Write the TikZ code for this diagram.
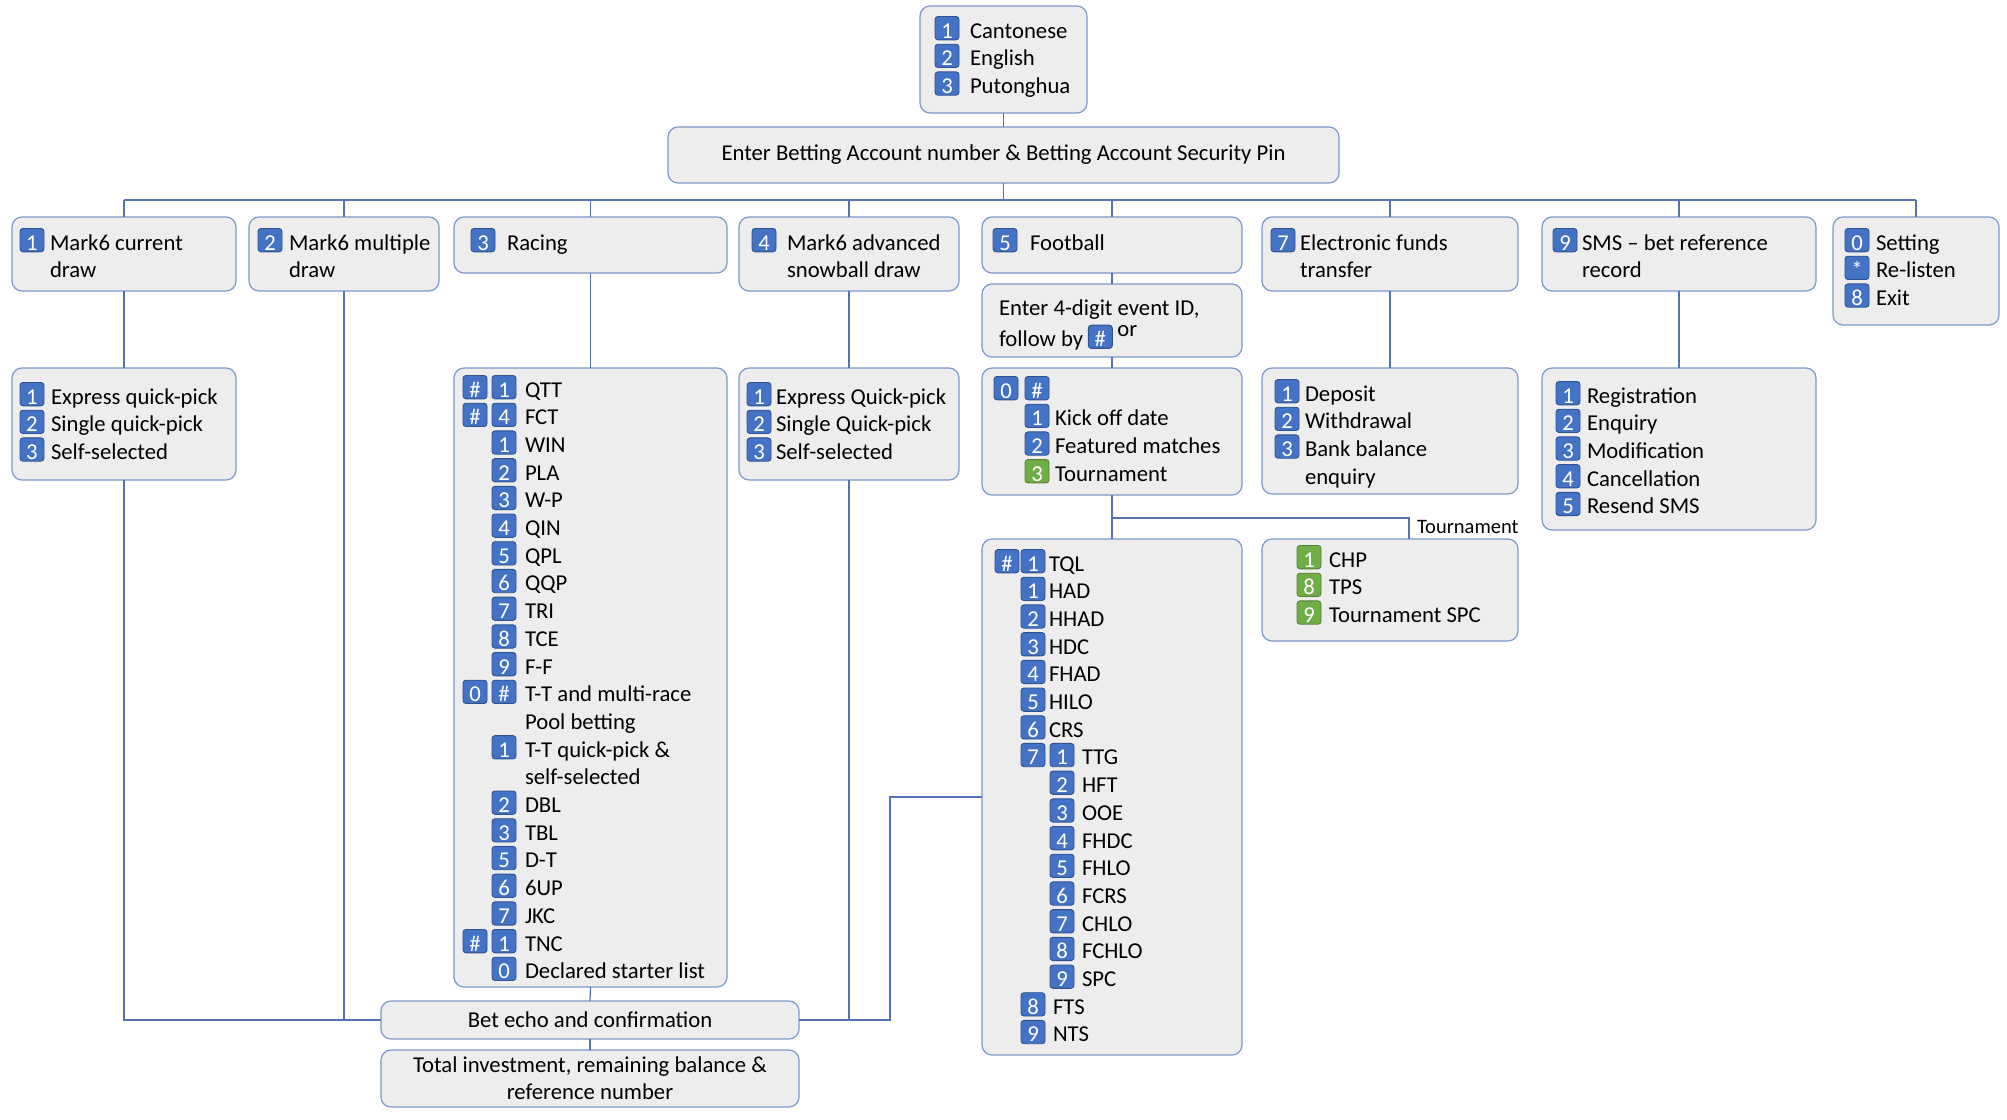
\documentclass[tikz,border=0pt]{standalone}
\usepackage{fontspec}
\setmainfont{Carlito}
\definecolor{boxfill}{RGB}{237,237,237}
\definecolor{boxline}{RGB}{124,152,204}
\definecolor{connline}{RGB}{84,114,182}
\definecolor{bdgfill}{RGB}{68,114,196}
\definecolor{bdgline}{RGB}{47,82,143}
\definecolor{grnfill}{RGB}{112,173,71}
\definecolor{grnline}{RGB}{84,130,53}
\newcommand\fs{\fontsize{22.7}{27.7}\selectfont}
\newcommand\bdgdraw[3]{\tikz[baseline=0pt]{\useasboundingbox (-12pt,-2pt) rectangle (12pt,18pt);
  \draw[line width=0.9pt,draw=#2,fill=#3,rounded corners=3pt] (-12pt,-1.8pt) rectangle (12pt,21.5pt);
  \node[anchor=base,inner sep=0pt,outer sep=0pt,text=white] (bdgnode) at (0pt,0pt) {#1};}}
\newcommand\B[1]{\bdgdraw{#1}{bdgline}{bdgfill}}
\newcommand\G[1]{\bdgdraw{#1}{grnline}{grnfill}}
\tikzset{
  box/.style={draw=boxline,fill=boxfill,rounded corners=10pt,line width=1.2pt,inner sep=0pt,outer sep=0pt,font=\fs,align=center},
  txt/.style={inner sep=0pt,outer sep=0pt,anchor=base west,font=\fs,text=black},
  conn/.style={draw=connline,line width=1.2pt}
}
\newcommand\bx[6]{\node[box,anchor=north west,minimum width={#4-#2},minimum height={#5-#3}] (#1) at (#2,#3) {#6};}
\newcommand\lstnode[5]{\node[txt] (#1) at (#2,#3) {\begin{tabular}[t]{@{}l@{\hspace{#4pt}}l@{}}#5\end{tabular}};}
\begin{document}
\begin{tikzpicture}[x=1pt,y=-1pt]
\useasboundingbox (0,0) rectangle (2007,1119);
% boxes
\bx{lang}{920}{6}{1087}{113}{}
\bx{enter}{668}{127}{1339}{183}{Enter Betting Account number \& Betting Account Security Pin}
\bx{m6c}{12}{217}{236}{291}{}
\bx{m6m}{249}{217}{439}{291}{}
\bx{rac}{454}{217}{727}{273}{}
\bx{m6a}{739}{217}{959}{291}{}
\bx{fb}{982}{217}{1242}{273}{}
\bx{eft}{1262}{217}{1518}{291}{}
\bx{sms}{1542}{217}{1816}{291}{}
\bx{set}{1833}{217}{1999}{325}{}
\bx{expb}{12}{368}{236}{480}{}
\bx{racl}{454}{368}{727}{987}{}
\bx{m6al}{739}{368}{959}{480}{}
\bx{evb}{982}{284}{1242}{357}{}
\bx{zerob}{982}{368}{1242}{495}{}
\bx{eftl}{1262}{368}{1518}{494}{}
\bx{smsl}{1542}{368}{1816}{530}{}
\bx{tqlb}{982}{539}{1242}{1055}{}
\bx{tourb}{1262}{539}{1518}{641}{}
\bx{bet}{381}{1001}{799}{1039}{Bet echo and confirmation}
\bx{tot}{381}{1050}{799}{1107}{Total investment, remaining balance \&\\[-1pt]reference number}
% contents
\lstnode{langt}{935}{38}{11}{\B{1}&Cantonese\\ \B{2}&English\\ \B{3}&Putonghua}
\lstnode{m6ct}{20}{250}{6}{\B{1}&Mark6 current\\ &draw}
\lstnode{m6mt}{258}{250}{7}{\B{2}&Mark6 multiple\\ &draw}
\lstnode{ract}{471}{250}{12}{\B{3}&Racing}
\lstnode{m6at}{752}{250}{11}{\B{4}&Mark6 advanced\\ &snowball draw}
\lstnode{fbt}{993}{250}{13}{\B{5}&Football}
\lstnode{eftt}{1271}{250}{5}{\B{7}&Electronic funds\\ &transfer}
\lstnode{smst}{1553}{250}{5}{\B{9}&SMS – bet reference\\ &record}
\lstnode{sett}{1845}{250}{7}{\B{0}&Setting\\ \B{*}&Re-listen\\ \B{8}&Exit}
\lstnode{expt}{20}{404}{7}{\B{1}&Express quick-pick\\ \B{2}&Single quick-pick\\ \B{3}&Self-selected}
\lstnode{m6alt}{747}{404}{5}{\B{1}&Express Quick-pick\\ \B{2}&Single Quick-pick\\ \B{3}&Self-selected}
\lstnode{eftlt}{1275}{401}{6}{\B{1}&Deposit\\ \B{2}&Withdrawal\\ \B{3}&Bank balance\\ &enquiry}
\lstnode{smslt}{1556}{403}{7}{\B{1}&Registration\\ \B{2}&Enquiry\\ \B{3}&Modification\\ \B{4}&Cancellation\\ \B{5}&Resend SMS}
\lstnode{tourt}{1297}{567}{8}{\G{1}&CHP\\ \G{8}&TPS\\ \G{9}&Tournament SPC}
\node[txt] (evt) at (999,315) {\begin{tabular}[t]{@{}l@{}}Enter 4-digit event ID,\\[2.3pt]follow by \B{\#} \raisebox{10pt}{or}\end{tabular}};
\node[txt] (zerot) at (994,398) {\begin{tabular}[t]{@{}l@{\hspace{7pt}}l@{\hspace{6pt}}l@{}}
\B{0}&\B{\#}&\\ &\B{1}&Kick off date\\ &\B{2}&Featured matches\\ &\G{3}&Tournament\end{tabular}};
\node[txt] (raclt) at (463,397) {\begin{tabular}[t]{@{}l@{\hspace{5pt}}l@{\hspace{9pt}}l@{}}
\B{\#}&\B{1}&QTT\\ \B{\#}&\B{4}&FCT\\ &\B{1}&WIN\\ &\B{2}&PLA\\ &\B{3}&W-P\\ &\B{4}&QIN\\ &\B{5}&QPL\\ &\B{6}&QQP\\ &\B{7}&TRI\\ &\B{8}&TCE\\ &\B{9}&F-F\\
\B{0}&\B{\#}&T-T and multi-race\\ &&Pool betting\\ &\B{1}&T-T quick-pick \&\\ &&self-selected\\
&\B{2}&DBL\\ &\B{3}&TBL\\ &\B{5}&D-T\\ &\B{6}&6UP\\ &\B{7}&JKC\\ \B{\#}&\B{1}&TNC\\ &\B{0}&Declared starter list\end{tabular}};
\node[txt] (tqlt) at (995,571) {\begin{tabular}[t]{@{}l@{\hspace{2pt}}l@{\hspace{4pt}}l@{}}
\B{\#}&\B{1}&TQL\\ &\B{1}&HAD\\ &\B{2}&HHAD\\ &\B{3}&HDC\\ &\B{4}&FHAD\\ &\B{5}&HILO\\ &\B{6}&CRS\\
&\B{7}&\hspace{1pt}\B{1}\hspace{8pt}TTG\\ &&\hspace{1pt}\B{2}\hspace{8pt}HFT\\ &&\hspace{1pt}\B{3}\hspace{8pt}OOE\\ &&\hspace{1pt}\B{4}\hspace{8pt}FHDC\\
&&\hspace{1pt}\B{5}\hspace{8pt}FHLO\\ &&\hspace{1pt}\B{6}\hspace{8pt}FCRS\\ &&\hspace{1pt}\B{7}\hspace{8pt}CHLO\\ &&\hspace{1pt}\B{8}\hspace{8pt}FCHLO\\ &&\hspace{1pt}\B{9}\hspace{8pt}SPC\\
&\B{8}&\hspace{4pt}FTS\\ &\B{9}&\hspace{4pt}NTS\end{tabular}};
\node[txt,font=\fontsize{20.5}{24}\selectfont] (tourlbl) at (1417,533) {Tournament};
% connectors
\coordinate (busL) at (124,200);
\coordinate (busR) at (1916,200);
\coordinate (kink) at (890,797);
\coordinate (tj) at (1409,518);
\draw[conn] (lang.south) -- (enter.north);
\draw[conn] (enter.south) -- (enter.south |- busL);
\draw[conn] (busL) -- (busR);
\foreach \n in {m6c,m6m,rac,m6a,fb,eft,sms,set} {\draw[conn] (\n.north) -- (\n.north |- busL);}
\draw[conn] (m6c.south) -- (expb.north);
\draw[conn] (expb.south) -- (expb.south |- bet.west) -- (bet.west);
\draw[conn] (m6m.south) -- (m6m.south |- bet.west);
\draw[conn] (rac.south) -- (racl.north);
\draw[conn] (racl.south) -- (bet.north);
\draw[conn] (bet.south) -- (tot.north);
\draw[conn] (m6a.south) -- (m6al.north);
\draw[conn] (m6al.south) -- (m6al.south |- bet.east) -- (bet.east);
\draw[conn] (bet.east) -| (kink) -- (tqlb.west);
\draw[conn] (fb.south) -- (evb.north);
\draw[conn] (evb.south) -- (zerob.north);
\draw[conn] (zerob.south) -- (tqlb.north);
\draw[conn] (zerob.south |- tj) -- (tj) -- (tj |- tourb.north);
\draw[conn] (eft.south) -- (eftl.north);
\draw[conn] (sms.south) -- (smsl.north);
\end{tikzpicture}
\end{document}
